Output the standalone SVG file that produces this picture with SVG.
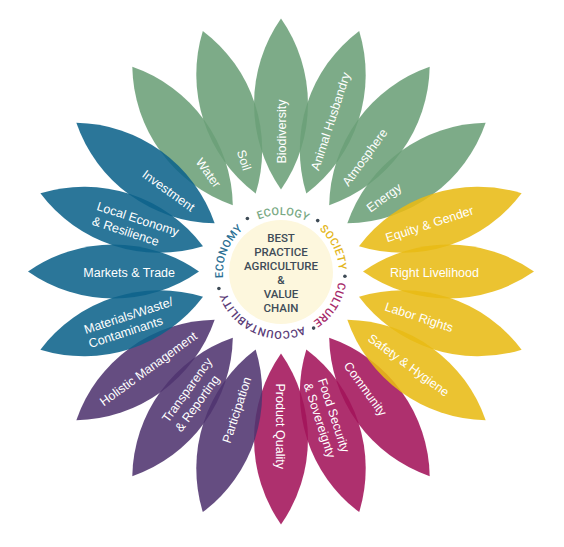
<svg xmlns="http://www.w3.org/2000/svg" xmlns:xlink="http://www.w3.org/1999/xlink" width="564" height="547" viewBox="0 0 564 547">
<style>
.green{fill:#6b9f77;fill-opacity:0.88}
.yellow{fill:#e8bb14;fill-opacity:0.88}
.magenta{fill:#a3135a;fill-opacity:0.88}
.purple{fill:#50346f;fill-opacity:0.88}
.blue{fill:#0e638b;fill-opacity:0.88}
.lbl{font-family:"Liberation Sans",Arial,sans-serif;font-size:12.5px;fill:#ffffff}
.ctr{font-family:Roboto,"Liberation Sans",Arial,sans-serif;font-size:11.5px;font-weight:500;fill:#404c58;text-anchor:middle}
.ring{font-family:Roboto,"Liberation Sans",Arial,sans-serif;font-size:11px;font-weight:500;letter-spacing:0.3px}
.dot{fill:#3d4a55}
</style>
<defs>
<path id="petal" d="M82,0 A149,149 0 0 1 253,0 A149,149 0 0 1 82,0Z"/>
<path id="ringpath" d="M225.53,289.96 A58,58 0 1 1 336.47,256.04 A58,58 0 1 1 225.53,289.96"/>
</defs>
<rect width="564" height="547" fill="#ffffff"/>

<g id="biodiversity" transform="translate(281,271.5) rotate(-90)"><use xlink:href="#petal" class="green"/><text class="lbl" x="108" y="5">Biodiversity</text></g>
<g id="animal-husbandry" transform="translate(281,271.5) rotate(-72)"><use xlink:href="#petal" class="green"/><text class="lbl" x="107" y="5">Animal Husbandry</text></g>
<g id="atmosphere" transform="translate(281,271.5) rotate(-54)"><use xlink:href="#petal" class="green"/><text class="lbl" x="108" y="5">Atmosphere</text></g>
<g id="energy" transform="translate(281,271.5) rotate(-36)"><use xlink:href="#petal" class="green"/><text class="lbl" x="107" y="5">Energy</text></g>
<g id="soil" transform="translate(281,271.5) rotate(-108)"><use xlink:href="#petal" class="green"/><text class="lbl" transform="rotate(180)" x="-107" y="5" text-anchor="end">Soil</text></g>
<g id="water" transform="translate(281,271.5) rotate(-126)"><use xlink:href="#petal" class="green"/><text class="lbl" transform="rotate(180)" x="-106" y="5" text-anchor="end">Water</text></g>

<g id="equity-gender" transform="translate(281,271.5) rotate(-18)"><use xlink:href="#petal" class="yellow"/><text class="lbl" x="110" y="5">Equity &amp; Gender</text></g>
<g id="right-livelihood" transform="translate(281,271.5) rotate(0)"><use xlink:href="#petal" class="yellow"/><text class="lbl" x="109" y="5">Right Livelihood</text></g>
<g id="labor-rights" transform="translate(281,271.5) rotate(18)"><use xlink:href="#petal" class="yellow"/><text class="lbl" x="110" y="5">Labor Rights</text></g>

<g id="community" transform="translate(281,271.5) rotate(54)"><use xlink:href="#petal" class="magenta"/><text class="lbl" x="113" y="5">Community</text></g>
<g id="food-security" transform="translate(281,271.5) rotate(72)"><use xlink:href="#petal" class="magenta"/><text class="lbl" x="114.5" y="-1.5">Food Security</text><text class="lbl" x="114.5" y="13.5">&amp; Sovereignty</text></g>
<g id="product-quality" transform="translate(281,271.5) rotate(90)"><use xlink:href="#petal" class="magenta"/><text class="lbl" x="112" y="5">Product Quality</text></g>

<g id="safety-hygiene" transform="translate(281,271.5) rotate(36)"><use xlink:href="#petal" class="yellow"/><text class="lbl" x="110" y="5">Safety &amp; Hygiene</text></g>

<g id="participation" transform="translate(281,271.5) rotate(108)"><use xlink:href="#petal" class="purple"/><text class="lbl" transform="rotate(180)" x="-111" y="5" text-anchor="end">Participation</text></g>
<g id="transparency-reporting" transform="translate(281,271.5) rotate(126)"><use xlink:href="#petal" class="purple"/><g transform="rotate(180)"><text class="lbl" x="-189" y="-2">Transparency</text><text class="lbl" x="-189" y="14">&amp; Reporting</text></g></g>
<g id="holistic-management" transform="translate(281,271.5) rotate(144)"><use xlink:href="#petal" class="purple"/><text class="lbl" transform="rotate(180)" x="-106" y="5" text-anchor="end">Holistic Management</text></g>

<g id="materials-waste" transform="translate(281,271.5) rotate(162)"><use xlink:href="#petal" class="blue"/><g transform="rotate(180)"><text class="lbl" x="-205" y="-1">Materials/Waste/</text><text class="lbl" x="-205" y="13.8">Contaminants</text></g></g>
<g id="markets-trade" transform="translate(281,271.5) rotate(180)"><use xlink:href="#petal" class="blue"/><text class="lbl" transform="rotate(180)" x="-106" y="5" text-anchor="end">Markets &amp; Trade</text></g>
<g id="local-economy" transform="translate(281,271.5) rotate(198)"><use xlink:href="#petal" class="blue"/><g transform="rotate(180)"><text class="lbl" x="-195" y="-1.5">Local Economy</text><text class="lbl" x="-195" y="14">&amp; Resilience</text></g></g>
<g id="investment" transform="translate(281,271.5) rotate(216)"><use xlink:href="#petal" class="blue"/><text class="lbl" transform="rotate(180)" x="-108" y="5" text-anchor="end">Investment</text></g>

<g id="center">
<circle cx="281" cy="272" r="52" fill="#fdf7dd"/>
<text class="ctr" x="281" y="241.7">BEST</text>
<text class="ctr" x="281" y="255.8">PRACTICE</text>
<text class="ctr" x="281" y="269.9">AGRICULTURE</text>
<text class="ctr" x="281" y="284">&amp;</text>
<text class="ctr" x="281" y="298.1">VALUE</text>
<text class="ctr" x="281" y="312.2">CHAIN</text>
</g>

<g id="ring">
<text class="ring" text-anchor="middle" fill="#2a6f94"><textPath xlink:href="#ringpath" startOffset="39.5">ECONOMY</textPath></text>
<text class="ring" text-anchor="middle" fill="#79a984"><textPath xlink:href="#ringpath" startOffset="110.3">ECOLOGY</textPath></text>
<text class="ring" text-anchor="middle" fill="#e3b620"><textPath xlink:href="#ringpath" startOffset="173.1">SOCIETY</textPath></text>
<text class="ring" text-anchor="middle" fill="#a62a69"><textPath xlink:href="#ringpath" startOffset="232.4">CULTURE</textPath></text>
<text class="ring" text-anchor="middle" fill="#5b3d78"><textPath xlink:href="#ringpath" startOffset="313.8">ACCOUNTABILITY</textPath></text>
<circle class="dot" cx="218.9" cy="288.5" r="1.8"/>
<circle class="dot" cx="247.4" cy="218.5" r="1.8"/>
<circle class="dot" cx="317.7" cy="220.6" r="1.8"/>
<circle class="dot" cx="344.9" cy="276.3" r="1.8"/>
<circle class="dot" cx="313.6" cy="328.1" r="1.8"/>
</g>
</svg>
